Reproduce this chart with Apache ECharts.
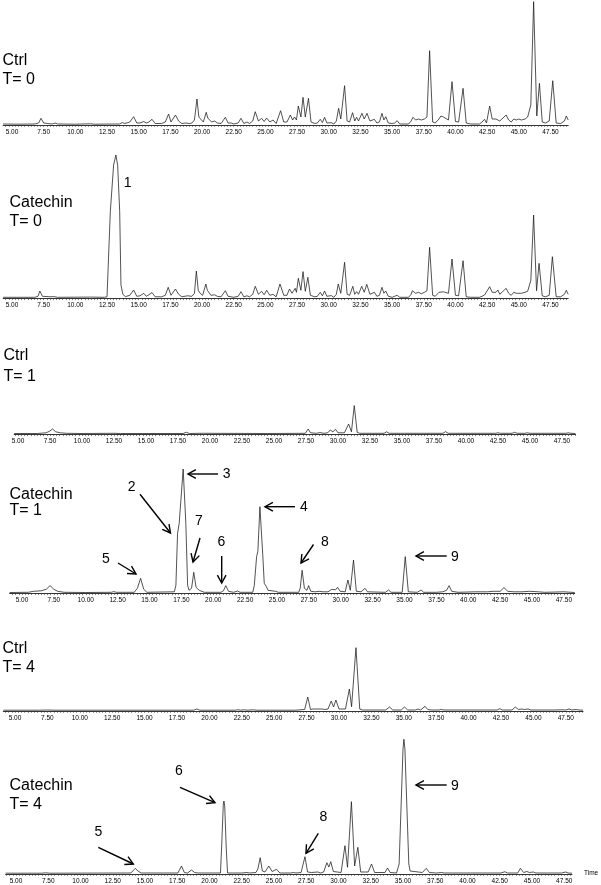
<!DOCTYPE html>
<html>
<head>
<meta charset="utf-8">
<script src="https://cdn.jsdelivr.net/npm/echarts@6/dist/echarts.min.js"></script>
<style>
html,body{margin:0;padding:0;background:#fff;}
#c{width:601px;height:885px;}
</style>
</head>
<body>
<div id="c"></div>
<script>
// ---- tick labels (retention time, min) ----
const timeLabels = [5, 7.5, 10, 12.5, 15, 17.5, 20, 22.5, 25, 27.5, 30, 32.5, 35, 37.5, 40, 42.5, 45, 47.5];

// ---- panel titles ----
const panelNames = ['Ctrl', 'Catechin', 'Ctrl', 'Catechin', 'Ctrl', 'Catechin'];
const panelTimes = ['T= 0', 'T= 0', 'T= 1', 'T= 1', 'T= 4', 'T= 4'];

// ---- chromatogram traces: [time (min), detector response] ----
const ctrlT0 = [[4.3,1],[5.5,0.8],[6.8,1],[7.1,2],[7.29,6.7],[7.5,2],[7.8,1.5],[8.2,1],[8.4,2],[8.6,1],[10,0.8],[11.2,1.2],[11.5,0.8],[13.5,1],[13.7,2.5],[13.9,1.5],[14.3,3],[14.6,8.3],[14.85,2],[15.1,2],[15.4,3.5],[15.6,2],[15.8,3],[16.05,5.7],[16.3,1.5],[16.8,1.5],[17.1,3],[17.36,11],[17.55,3],[17.7,4],[17.9,10],[18.15,4],[18.4,1.5],[18.7,2],[18.85,3.5],[19.0,1.5],[19.2,2],[19.4,5],[19.6,26],[19.75,8],[19.9,6],[20.1,3],[20.33,12.7],[20.45,7],[20.55,9],[20.75,3],[21.0,4],[21.2,2],[21.5,1.5],[21.84,7.7],[22.05,2],[22.3,2],[22.5,1],[22.85,2],[23.07,6.7],[23.3,1.5],[23.55,3],[23.75,1.5],[24.0,4],[24.2,13.3],[24.45,4],[24.7,6.7],[24.9,3.5],[25.1,7],[25.35,3],[25.6,5],[25.85,1.5],[26.0,3],[26.2,14.3],[26.45,3],[26.7,3],[26.97,10],[27.15,5],[27.3,8],[27.45,5],[27.6,19],[27.8,8],[27.97,27.7],[28.15,8],[28.4,26.7],[28.6,3],[28.9,1.5],[29.1,2],[29.33,5.7],[29.5,2.5],[29.67,7.7],[29.85,2],[30.2,2.3],[30.4,1],[30.6,4],[30.78,16.7],[30.95,6],[31.25,39.3],[31.45,4],[31.65,3],[31.88,12.3],[32.05,4],[32.2,7.7],[32.35,4],[32.62,11.7],[32.8,6],[33.02,11.7],[33.25,4],[33.4,2],[33.6,5.7],[33.8,2],[34.0,3],[34.2,11.7],[34.35,5],[34.5,8.3],[34.7,2],[35.0,1.5],[35.2,2],[35.4,4.3],[35.6,1],[36.3,1],[36.5,4],[36.65,7.7],[36.85,5],[37.1,6],[37.3,5],[37.55,6],[37.75,8],[37.96,74.3],[38.2,3],[38.4,2],[38.7,6],[38.85,9],[39.05,8],[39.2,9],[39.45,5],[39.73,43.3],[40.0,3.5],[40.25,3],[40.6,36.7],[40.85,2],[41.2,1],[41.9,1],[42.1,3],[42.3,5.7],[42.45,2],[42.7,19],[42.9,6],[43.05,8],[43.2,6],[43.35,8],[43.5,4],[43.65,4],[44.0,10],[44.2,5],[44.4,3],[44.6,6],[44.8,5],[45.0,6],[45.2,5],[45.5,6],[45.7,8],[45.95,20],[46.17,123.3],[46.42,9],[46.63,41.7],[46.85,3],[47.1,2],[47.4,4],[47.68,44.3],[47.95,2],[48.3,1.5],[48.6,4],[48.75,9],[48.9,5]];

const catechinT0 = [[4.3,1],[6.8,1],[7.05,2],[7.2,7.3],[7.4,2],[8.0,1.5],[8.3,1.7],[8.6,1],[11.2,1.2],[12.3,1],[12.5,1.5],[12.76,86.7],[13.02,133.3],[13.2,143.3],[13.34,133],[13.5,86.7],[13.6,13.3],[13.75,4],[13.95,1.7],[14.3,3],[14.6,8.3],[14.85,2],[15.1,2.5],[15.4,5],[15.6,2],[15.8,3.5],[16.05,5.7],[16.3,1.5],[16.8,1.5],[17.1,3],[17.33,11],[17.55,3],[17.7,4],[17.9,9.3],[18.15,4],[18.4,1.5],[18.85,2.5],[19.0,1.5],[19.2,2],[19.4,5],[19.55,27.3],[19.7,8],[19.85,5],[20.05,3],[20.3,14.3],[20.42,8],[20.5,10],[20.7,3],[21.0,3.5],[21.2,2],[21.5,1.5],[21.84,7.6],[22.05,2],[22.5,1],[22.85,2],[23.07,6.6],[23.3,1.5],[23.55,2.5],[23.75,1.5],[24.0,4],[24.2,12],[24.45,4],[24.7,7],[24.9,3.5],[25.1,8],[25.35,3],[25.6,4],[25.85,1.5],[26.0,3],[26.15,14.3],[26.45,3],[26.7,3],[26.9,9.3],[27.1,5],[27.35,10],[27.45,6],[27.6,20],[27.8,8],[27.97,26.7],[28.15,7],[28.35,21],[28.55,3],[28.9,1.5],[29.1,2],[29.33,6],[29.5,2.5],[29.67,7.3],[29.85,2],[30.2,2.7],[30.4,1],[30.6,4],[30.75,14.3],[30.95,5],[31.25,36],[31.45,4],[31.65,3],[31.9,12],[32.05,4],[32.2,6.7],[32.35,4],[32.6,12],[32.8,6],[33.0,14],[33.25,4],[33.4,2],[33.6,6],[33.8,2],[34.0,3],[34.2,11],[34.35,5],[34.5,7.3],[34.7,2],[35.0,1],[35.2,2],[35.4,3],[35.6,1],[36.3,1],[36.5,4],[36.6,7.6],[36.85,5],[37.1,6],[37.3,4.5],[37.55,6],[37.75,7.5],[37.96,51],[38.2,3],[38.4,2],[38.7,6],[38.85,7.3],[39.05,6.5],[39.2,7],[39.45,5],[39.73,39.3],[40.0,3],[40.25,2.5],[40.6,37.6],[40.85,1.5],[41.2,1],[41.9,1],[42.1,2],[42.3,3.3],[42.45,2],[42.7,11.6],[42.9,6],[43.05,8],[43.2,6],[43.35,8.3],[43.5,4],[43.65,4],[44.0,10],[44.2,5],[44.4,3],[44.6,6],[44.8,5],[45.0,5],[45.2,5],[45.5,6],[45.7,7],[45.95,18],[46.17,83.3],[46.4,7.6],[46.6,35],[46.85,2.5],[47.1,1.5],[47.4,3],[47.65,41.6],[47.95,1.5],[48.3,1.5],[48.6,4],[48.75,8],[48.9,4]];

const ctrlT1 = [[4.7,0.8],[6.5,0.8],[7.2,1.5],[7.45,3],[7.7,5.3],[7.95,2.5],[8.3,1.5],[8.8,1],[10,0.8],[12.5,1],[13.0,0.8],[17.9,0.8],[18.15,2],[18.4,0.8],[19.2,1],[19.35,1.5],[19.5,1],[24.5,0.8],[27.45,1],[27.67,5.3],[27.85,1.5],[28.3,1],[28.6,1.7],[28.9,1],[29.2,1.5],[29.4,4.3],[29.6,2.5],[29.8,5],[30.0,1.5],[30.5,1.5],[30.83,10.3],[31.05,2.5],[31.27,28.7],[31.5,2],[31.7,1],[33.6,1],[33.8,2.5],[34.0,1],[34.9,1],[35.0,1.5],[35.2,1],[36.5,1],[36.6,2],[36.8,1],[38.2,1],[38.4,2.7],[38.6,1],[42.3,1],[42.5,1.5],[42.7,1],[43.6,1],[43.8,2],[44.0,1],[44.6,1],[44.8,1.5],[45.0,1],[47.8,1],[48.0,1.5],[48.2,1],[48.55,0.8]];

const catechinT1 = [[4.03,0.8],[5.5,1],[5.9,2],[6.5,2.5],[6.9,4],[7.2,7.7],[7.5,4],[7.8,2],[8.3,1],[10,0.8],[12.0,1],[12.2,1.7],[12.4,1],[13.8,1],[14.05,5],[14.3,15],[14.55,4],[14.8,1],[16.95,1.5],[17.07,8],[17.2,60],[17.33,70],[17.64,124.3],[17.85,70],[17.99,8],[18.1,3],[18.3,5],[18.47,21],[18.65,6],[18.9,3],[19.3,1],[20.6,1],[20.8,2.5],[20.98,7.7],[21.2,2],[21.6,1],[21.9,2.3],[22.1,1],[23.1,1],[23.22,8],[23.4,36.6],[23.5,42],[23.66,86.6],[23.88,39],[24.0,10],[24.15,7],[24.3,3],[24.9,2],[25.1,1],[26.7,1],[26.82,5],[26.97,23],[27.15,5],[27.35,3],[27.48,7.7],[27.65,2],[28.0,1.5],[28.3,2],[28.6,1.5],[29.0,1.5],[29.3,4],[29.45,6],[29.6,3.5],[29.75,6],[29.95,2],[30.35,1.5],[30.56,13.3],[30.75,3],[31.0,33.3],[31.22,2],[31.6,1.5],[31.9,5],[32.1,1.5],[33.5,1],[33.75,3.3],[33.95,1],[34.82,1],[35.06,36.7],[35.3,1.5],[36.0,1],[36.3,3.3],[36.5,1],[37.5,1],[38.0,1.5],[38.3,3],[38.5,7.7],[38.7,2],[39.2,1],[40.5,1.5],[41.0,1.5],[41.5,1.5],[42.0,2],[42.5,2],[42.8,5.7],[43.1,2],[43.6,1.5],[44.2,1.5],[44.8,2],[45.5,1.5],[46.0,1],[47.5,1.5],[48.35,0.8]];

const ctrlT4 = [[4.1,0.8],[6.9,0.8],[7.5,1],[8.0,0.8],[18.8,0.8],[19.03,2],[19.25,0.8],[19.8,0.8],[19.95,1.3],[20.1,0.8],[22.0,0.8],[22.2,1.3],[22.4,0.8],[22.7,1.2],[22.9,0.8],[23.4,1.2],[23.6,0.8],[24.4,0.8],[24.55,1.3],[24.7,0.8],[26.3,0.8],[26.45,1.3],[26.6,0.8],[27.35,1.5],[27.59,14],[27.8,1.5],[28.0,2],[28.15,1],[28.35,2],[28.5,1],[28.7,2],[28.9,1.5],[29.15,2],[29.4,10],[29.58,4],[29.76,11],[30.0,2],[30.5,2],[30.8,22],[30.97,4.3],[31.31,63.3],[31.6,2],[31.8,1],[33.6,1],[33.9,4],[34.15,1],[34.8,1],[35.06,4],[35.3,1],[35.9,1],[36.1,2],[36.3,1],[36.64,4.7],[36.85,1.5],[37.1,1],[37.7,1],[37.9,1.5],[38.1,1],[42.2,1],[42.4,2.3],[42.6,1],[43.35,1],[43.6,4],[43.85,1.5],[44.1,2],[44.3,1.5],[44.6,2],[44.8,1],[46.5,1],[47.2,1.2],[47.5,1],[47.75,2],[47.95,1],[48.3,1.5],[48.5,1],[48.83,0.8]];

const catechinT4 = [[4.2,0.8],[7.0,0.8],[7.3,1.2],[7.6,0.8],[13.9,1],[14.05,3],[14.25,5.7],[14.45,3],[14.7,1],[17.55,1],[17.83,8],[18.05,1.5],[18.3,1],[18.6,4],[18.85,1.5],[19.1,1],[20.85,1],[20.95,30],[21.07,70],[21.12,73],[21.18,68],[21.3,25],[21.4,1],[21.8,1],[22.5,1],[22.9,1.5],[23.1,1],[23.6,1.5],[23.75,5],[23.93,16.3],[24.1,3],[24.3,2],[24.6,8],[24.85,2.5],[25.2,4.7],[25.45,1],[26.3,1],[26.5,1.5],[26.7,1],[27.1,1.5],[27.4,17.3],[27.6,2],[27.9,1.5],[28.4,2],[28.6,1],[28.85,2],[29.1,11.3],[29.25,7],[29.4,12.3],[29.6,2.5],[30.2,1.5],[30.5,28.3],[30.7,6.7],[31.0,72.3],[31.25,8],[31.5,26.7],[31.72,2],[32.3,2],[32.56,10],[32.8,1.5],[33.6,1.5],[33.8,6],[34.0,1.5],[34.5,1],[34.6,3],[34.7,10],[35.0,125],[35.07,134.7],[35.15,125],[35.45,10],[35.55,3],[35.7,2],[36.5,1.5],[36.8,5.7],[37.05,1.5],[37.6,1],[38.0,1.5],[38.2,1],[42.6,1],[42.9,2.3],[43.1,1],[43.9,1],[44.1,5.7],[44.35,1.5],[44.6,2.5],[44.8,1.5],[45.1,2],[45.3,1],[47.3,1],[47.6,2],[47.8,1],[48.1,0.8]];

const traces = [ctrlT0, catechinT0, ctrlT1, catechinT1, ctrlT4, catechinT4];

// ---- peak annotation labels ----
const peakNumbers = ['1', '2', '3', '7', '6', '5', '4', '8', '9', '6', '5', '8', '9'];

// ---- layout (pixels) ----
const layout = [
  {x5: 12, ppu: 12.67, tmin: 4.3, tmax: 48.9, base: 125, h: 124},
  {x5: 12, ppu: 12.67, tmin: 4.3, tmax: 48.9, base: 298.3, h: 145},
  {x5: 18, ppu: 12.8, tmin: 4.7, tmax: 48.55, base: 434.3, h: 30},
  {x5: 22, ppu: 12.75, tmin: 4.03, tmax: 48.35, base: 593.3, h: 126},
  {x5: 15, ppu: 12.96, tmin: 4.1, tmax: 48.83, base: 711, h: 65},
  {x5: 16, ppu: 12.9, tmin: 4.2, tmax: 48.1, base: 874, h: 136}
];
const titlePos = [[2.5, 60.8, 80], [9.5, 202.5, 221.7], [3.5, 355.8, 376.7], [9.5, 494.5, 510.5], [2.5, 649, 667.5], [9.5, 786, 804.5]];
// annotation: number position, arrow tail, arrow tip
const annoPos = [
  [127.7, 183.3, null],
  [131.7, 487.3, [140, 494.3, 170.5, 533]],
  [226.7, 474.5, [218, 474, 188, 474]],
  [199, 521, [200, 538, 193, 562]],
  [221.5, 542.3, [221.7, 556, 221.7, 583]],
  [106, 559.3, [118, 563, 136, 574]],
  [304, 506.7, [295, 506.7, 265, 506.7]],
  [325, 542.3, [313.5, 544.5, 301, 563]],
  [455, 557, [446.7, 556, 416, 556]],
  [179, 770.7, [180, 787.3, 215, 802.7]],
  [98.3, 831.7, [98.3, 847.3, 133.3, 864]],
  [323.3, 817.3, [318.3, 833.3, 306, 853.3]],
  [455, 786, [446.7, 785, 416, 785]]
];

const FONT = '"Liberation Sans", Arial, Helvetica, sans-serif';
const AXFONT = '"Liberation Sans Narrow", "Arial Narrow", "Liberation Sans", sans-serif';

const grids = [], xAxes = [], yAxes = [], series = [];
layout.forEach((L, i) => {
  const left = L.x5 - (5 - L.tmin) * L.ppu;
  const width = (L.tmax - L.tmin) * L.ppu;
  grids.push({left: left, width: width, top: L.base - L.h, height: L.h, containLabel: false});
  const ticks = [];
  for (let t = Math.ceil(L.tmin * 4) / 4; t <= L.tmax + 1e-9; t += 0.25) ticks.push(+t.toFixed(2));
  xAxes.push({
    type: 'value', gridIndex: i, min: L.tmin, max: L.tmax,
    axisLine: {show: true, onZero: false, lineStyle: {color: '#000', width: 0.8}},
    axisTick: {show: true, customValues: ticks, length: 1.8, lineStyle: {color: '#333', width: 0.6}},
    axisLabel: {show: true, customValues: timeLabels, formatter: v => v.toFixed(2), fontSize: 6.5, margin: 3.5, color: '#000', fontFamily: AXFONT},
    splitLine: {show: false}
  });
  yAxes.push({type: 'value', gridIndex: i, min: 0, max: L.h, show: false, splitLine: {show: false}});
  series.push({
    type: 'line', xAxisIndex: i, yAxisIndex: i, data: traces[i],
    showSymbol: false, silent: true, clip: false,
    lineStyle: {color: '#1a1a1a', width: 0.75}
  });
});

const graphic = [];
titlePos.forEach((p, i) => {
  graphic.push({type: 'text', x: p[0], y: p[1], style: {text: panelNames[i], font: '16px ' + FONT, fill: '#000', align: 'left', verticalAlign: 'middle'}});
  graphic.push({type: 'text', x: p[0], y: p[2], style: {text: panelTimes[i], font: '16px ' + FONT, fill: '#000', align: 'left', verticalAlign: 'middle'}});
});
annoPos.forEach((a, i) => {
  graphic.push({type: 'text', x: a[0], y: a[1], style: {text: peakNumbers[i], font: '14px ' + FONT, fill: '#000', align: 'center', verticalAlign: 'middle'}});
  if (a[2]) {
    const [x1, y1, x2, y2] = a[2];
    const ang = Math.atan2(y2 - y1, x2 - x1);
    const hl = 9, ha = 0.5;
    const p1 = [x2 - hl * Math.cos(ang - ha), y2 - hl * Math.sin(ang - ha)];
    const p2 = [x2 - hl * Math.cos(ang + ha), y2 - hl * Math.sin(ang + ha)];
    graphic.push({type: 'line', shape: {x1: x1, y1: y1, x2: x2, y2: y2}, style: {stroke: '#000', lineWidth: 1.4}});
    graphic.push({type: 'polyline', shape: {points: [p1, [x2, y2], p2]}, style: {stroke: '#000', lineWidth: 1.4, fill: null}});
  }
});
graphic.push({type: 'text', x: 584, y: 873.5, style: {text: 'Time', font: '6.5px ' + AXFONT, fill: '#000', align: 'left', verticalAlign: 'middle'}});

const chart = echarts.init(document.getElementById('c'), null, {renderer: 'canvas'});
chart.setOption({
  animation: false,
  backgroundColor: '#fff',
  grid: grids, xAxis: xAxes, yAxis: yAxes, series: series,
  graphic: graphic
});
</script>
</body>
</html>
